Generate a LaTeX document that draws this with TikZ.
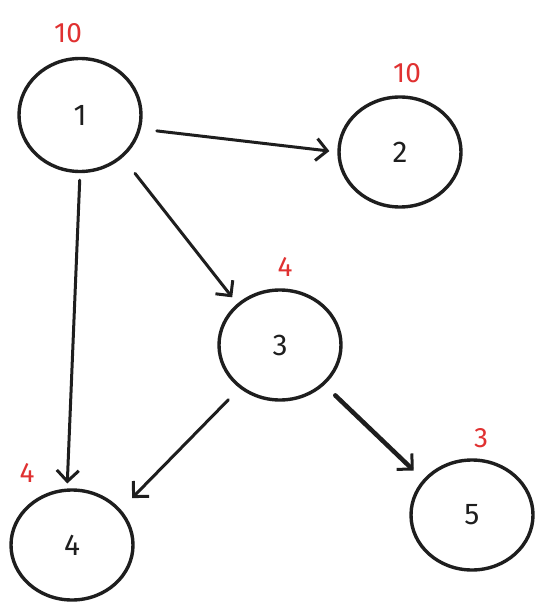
\documentclass[tikz,border=0pt]{standalone}
\usepackage{fontspec}
\setmainfont{Fira Sans}
\usetikzlibrary{shapes.geometric,arrows.meta}
\definecolor{exred}{HTML}{E03131}
\definecolor{exink}{HTML}{1E1E1E}
\begin{document}
\begin{tikzpicture}[x=1pt,y=-1pt,
  vert/.style={ellipse,draw=exink,line width=3.4pt,inner sep=0pt,minimum width=122pt,minimum height=110pt,font=\fontsize{30}{30}\selectfont,text=exink},
  wt/.style={text=exred,font=\fontsize{28}{28}\selectfont,inner sep=0pt},
  edge/.style={draw=exink,line width=3pt,line cap=round,-{Straight Barb[length=11pt,width=22pt,line width=3pt]}}
]
\useasboundingbox (0,0) rectangle (544,612);
\node[vert,minimum height=113pt] (n1) at (80,115) {1};
\node[vert] (n2) at (400,152) {2};
\node[vert] (n3) at (280,345) {3};
\node[vert] (n4) at (72,545) {4};
\node[vert] (n5) at (472,515) {5};
\node[wt] (w1) at (68,33) {10};
\node[wt] (w2) at (407,73) {10};
\node[wt] (w3) at (285,267) {4};
\node[wt] (w4) at (27,473) {4};
\node[wt] (w5) at (481,438) {3};
\draw[edge,shorten <=16pt,shorten >=8pt] (n1.-13) -- (n2.180);
\draw[edge,shorten <=20pt,shorten >=8pt] (n1.-45) -- (n3.136);
\draw[edge,shorten <=7pt,shorten >=5pt] (n1.-90) -- (n4.95);
\draw[edge,shorten <=16pt,shorten >=16pt] (n3.-133) -- (n4.36);
\draw[edge,line width=4.5pt,shorten <=15pt,shorten >=13pt] (n3.-42) -- (n5.144);
\end{tikzpicture}
\end{document}
